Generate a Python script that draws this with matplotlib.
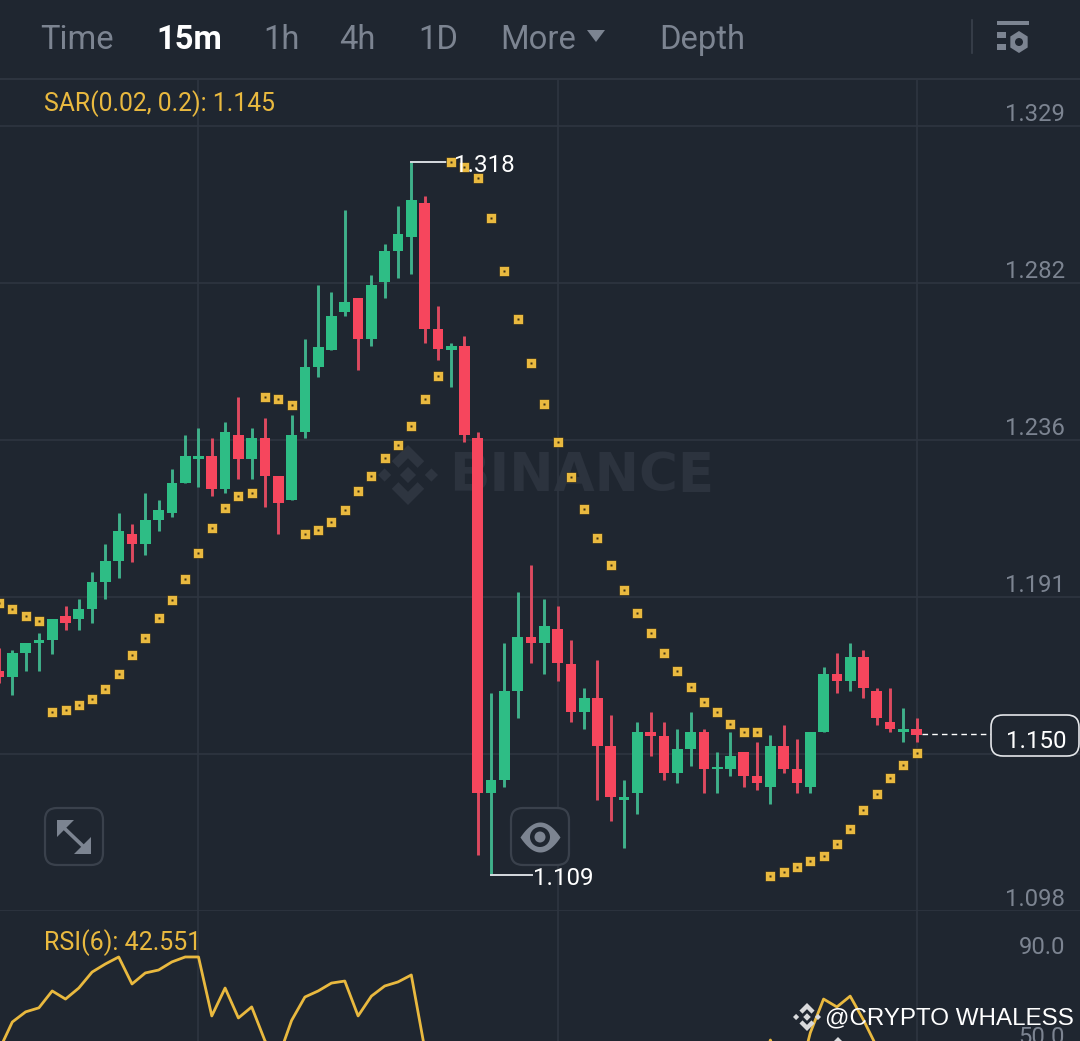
import numpy as np
import matplotlib
matplotlib.use('Agg')
import matplotlib.pyplot as plt
from matplotlib.patches import FancyBboxPatch, Polygon, Circle, Rectangle

# Candle data (15m)
Open = [1.1686, 1.1668, 1.1739, 1.1768, 1.1777, 1.1848, 1.1839, 1.1869, 1.1949, 1.2010,
        1.2089, 1.2060, 1.2131, 1.2151, 1.2240, 1.2310, 1.2319, 1.2222, 1.2381, 1.2310,
        1.2372, 1.2260, 1.2190, 1.2390, 1.2581, 1.2631, 1.2743, 1.2784, 1.2663, 1.2831,
        1.2922, 1.2963, 1.3063, 1.2693, 1.2631, 1.2643, 1.2372, 1.1328, 1.1366, 1.1627,
        1.1786, 1.1768, 1.1810, 1.1707, 1.1566, 1.1607, 1.1466, 1.1307, 1.1328, 1.1507,
        1.1495, 1.1386, 1.1457, 1.1507, 1.1398, 1.1398, 1.1448, 1.1377, 1.1345, 1.1466,
        1.1398, 1.1345, 1.1507, 1.1677, 1.1657, 1.1728, 1.1627, 1.1536, 1.1507, 1.1516]
High = [1.1754, 1.1748, 1.1768, 1.1798, 1.1839, 1.1877, 1.1898, 1.1978, 1.2060, 1.2151,
        1.2119, 1.2210, 1.2190, 1.2281, 1.2381, 1.2401, 1.2372, 1.2419, 1.2492, 1.2401,
        1.2431, 1.2260, 1.2440, 1.2663, 1.2822, 1.2802, 1.3043, 1.2784, 1.2852, 1.2943,
        1.3055, 1.3184, 1.3084, 1.2760, 1.2652, 1.2672, 1.2390, 1.1621, 1.1768, 1.1919,
        1.1998, 1.1898, 1.1877, 1.1777, 1.1636, 1.1719, 1.1557, 1.1366, 1.1536, 1.1566,
        1.1536, 1.1516, 1.1566, 1.1516, 1.1448, 1.1507, 1.1448, 1.1477, 1.1498, 1.1527,
        1.1486, 1.1507, 1.1698, 1.1739, 1.1768, 1.1748, 1.1636, 1.1636, 1.1577, 1.1548]
Low = [1.1651, 1.1615, 1.1686, 1.1686, 1.1736, 1.1807, 1.1807, 1.1827, 1.1898, 1.1960,
       1.2007, 1.2028, 1.2098, 1.2140, 1.2240, 1.2228, 1.2202, 1.2210, 1.2251, 1.2251,
       1.2169, 1.2089, 1.2190, 1.2372, 1.2552, 1.2631, 1.2731, 1.2572, 1.2643, 1.2784,
       1.2843, 1.2855, 1.2652, 1.2601, 1.2522, 1.2360, 1.1145, 1.1086, 1.1345, 1.1548,
       1.1710, 1.1677, 1.1657, 1.1536, 1.1516, 1.1307, 1.1245, 1.1165, 1.1265, 1.1436,
       1.1366, 1.1357, 1.1407, 1.1328, 1.1328, 1.1377, 1.1345, 1.1336, 1.1295, 1.1386,
       1.1328, 1.1328, 1.1507, 1.1621, 1.1627, 1.1607, 1.1527, 1.1507, 1.1477, 1.1477]
Close = [1.1668, 1.1739, 1.1768, 1.1777, 1.1839, 1.1827, 1.1869, 1.1949, 1.2010, 1.2098,
         1.2060, 1.2131, 1.2160, 1.2240, 1.2319, 1.2319, 1.2222, 1.2390, 1.2310, 1.2372,
         1.2260, 1.2181, 1.2381, 1.2581, 1.2640, 1.2731, 1.2772, 1.2663, 1.2822, 1.2922,
         1.2972, 1.3072, 1.2693, 1.2634, 1.2643, 1.2381, 1.1328, 1.1366, 1.1627, 1.1786,
         1.1768, 1.1819, 1.1710, 1.1566, 1.1607, 1.1466, 1.1315, 1.1315, 1.1507, 1.1495,
         1.1386, 1.1457, 1.1507, 1.1398, 1.1404, 1.1436, 1.1377, 1.1357, 1.1466, 1.1398,
         1.1357, 1.1507, 1.1677, 1.1657, 1.1728, 1.1636, 1.1548, 1.1516, 1.1516, 1.1498]
Sar = [1.1887, 1.1869, 1.1848, 1.1833, 1.1566, 1.1572, 1.1586, 1.1604, 1.1633, 1.1677,
       1.1733, 1.1783, 1.1842, 1.1895, 1.1957, 1.2034, 1.2107, 1.2166, 1.2202, 1.2210,
       1.2492, 1.2487, 1.2469, 1.2089, 1.2101, 1.2125, 1.2160, 1.2216, 1.2260, 1.2313,
       1.2351, 1.2407, 1.2487, 1.2554, 1.3184, 1.3169, 1.3137, 1.3019, 1.2863, 1.2722,
       1.2593, 1.2472, 1.2360, 1.2257, 1.2163, 1.2078, 1.1998, 1.1925, 1.1857, 1.1798,
       1.1739, 1.1686, 1.1639, 1.1595, 1.1566, 1.1530, 1.1507, 1.1507, 1.1083, 1.1095,
       1.1110, 1.1127, 1.1142, 1.1177, 1.1221, 1.1277, 1.1324, 1.1371, 1.1410, 1.1445]
# values under the bottom edge of the picture are guesses
Rsi = [49.4, 62.0, 66.5, 68.3, 75.8, 72.2, 77.1, 84.2, 87.8, 90.9,
       78.9, 83.8, 85.1, 88.7, 90.9, 90.9, 64.7, 77.1, 63.8, 68.7,
       53.6, 46.0, 62.7, 73.1, 75.8, 79.3, 80.2, 64.7, 73.5, 78.0,
       79.8, 82.9, 50.4, 36.0, 37.0, 22.0, 8.0, 9.0, 25.0, 33.0,
       32.0, 35.0, 30.0, 24.0, 26.0, 22.0, 18.0, 18.0, 30.0, 30.0,
       26.0, 28.0, 31.0, 27.0, 27.0, 29.0, 26.0, 35.0, 54.0, 38.0,
       34.0, 57.2, 72.2, 68.7, 73.5, 62.9, 50.9, 36.0, 40.0, 42.551]

price_grid = [1.329, 1.2828, 1.2366, 1.1904, 1.1442, 1.098]
price_labels = ['1.329', '1.282', '1.236', '1.191', '', '1.098']
rsi_ticks = [90.0, 50.0]
time_grid = [15, 42, 69]
menu_labels = ['Time', '15m', '1h', '4h', '1D', 'More', 'Depth']
menu_x = [41, 157, 264, 340, 419, 501, 660]

BG = '#1f2630'
GRID = '#2e3540'
GREEN = '#2ebd85'
RED = '#f6465d'
GREEN_WICK = '#3fb08a'
RED_WICK = '#dd4a60'
GOLD = '#e9b93f'
GREY = '#7c8491'
FONT = 'Roboto'
W, H = 1080, 1041

plt.rcParams['font.family'] = FONT

fig = plt.figure(figsize=(W / 100, H / 100), dpi=100, facecolor=BG)


def pixel_axes(top, bottom, z):
    a = fig.add_axes([0, 1 - bottom / H, 1, (bottom - top) / H], zorder=z)
    a.set_facecolor('none')
    a.axis('off')
    return a


def draw_logo(a, cx, cy, s, color, z=1):
    # binance mark, s is half of the total height
    c = 0.27 * s
    a.add_patch(Polygon([(cx, cy - c), (cx + c, cy), (cx, cy + c), (cx - c, cy)], fc=color, ec='none', zorder=z))
    for sx in (-1, 1):
        d = 0.78 * s * sx
        e = 0.22 * s
        a.add_patch(Polygon([(cx + d, cy - e), (cx + d + e, cy), (cx + d, cy + e), (cx + d - e, cy)], fc=color, ec='none', zorder=z))
    for sy in (-1, 1):
        a.add_patch(Polygon([(cx, cy + sy * s), (cx + 0.54 * s, cy + sy * 0.46 * s), (cx + 0.32 * s, cy + sy * 0.24 * s),
                             (cx, cy + sy * 0.56 * s), (cx - 0.32 * s, cy + sy * 0.24 * s), (cx - 0.54 * s, cy + sy * 0.46 * s)],
                            fc=color, ec='none', zorder=z))


# background layer, watermark sits under the candles
back = pixel_axes(0, H, 0)
back.set_xlim(0, W)
back.set_ylim(H, 0)
back.axhline(79, color=GRID, lw=1.4)
draw_logo(back, 408, 475, 30, '#2e3540')
back.text(449, 476, 'BINANCE', color='#2c333e', fontsize=38.2, fontweight='bold', family='DejaVu Sans', va='center', ha='left')

# price panel
ax = pixel_axes(80, 911, 1)
idx = np.arange(len(Open))
ax.set_xlim(0.075, 81.28)
ax.set_ylim(1.09800, 1.34254)
for p in price_grid:
    ax.axhline(p, color=GRID, lw=1.2, zorder=1)
for t in time_grid:
    ax.axvline(t, color=GRID, lw=1.2, zorder=1)

up = np.array(Close) >= np.array(Open)
colors = [GREEN if u else RED for u in up]
wick_colors = [GREEN_WICK if u else RED_WICK for u in up]
ax.vlines(idx, Low, High, colors=wick_colors, lw=2.1, zorder=2)
ax.bar(idx, np.array(Close) - np.array(Open), bottom=Open, width=0.8, color=colors, zorder=3)

ax.plot(idx, Sar, ls='none', marker='s', ms=6.6, mfc=GOLD, mec='#15181c', mew=0.4, zorder=4)
ax.plot(idx, Sar, ls='none', marker='s', ms=2.0, mfc='#3a2e14', mec='none', zorder=5)

for p, lab in zip(price_grid, price_labels):
    ax.annotate(lab, xy=(1, p), xycoords=ax.get_yaxis_transform(), xytext=(-10.8, 8.6), textcoords='offset points',
                ha='right', va='center', color=GREY, fontsize=17.2)

# high / low marks and current price
hi = int(np.argmax(High))
lo = int(np.argmin(Low))
ax.plot([hi, hi + 2.65], [High[hi], High[hi]], color='#d8dbe0', lw=1.4, zorder=3)
ax.plot([lo, lo + 3.05], [Low[lo], Low[lo]], color='#d8dbe0', lw=1.4, zorder=3)
ax.annotate('1.318', xy=(hi, High[hi]), xytext=(30.5, -2.6), textcoords='offset points', color='white', fontsize=17.4, va='center', zorder=6)
ax.annotate('1.109', xy=(lo, Low[lo]), xytext=(30, -2.6), textcoords='offset points', color='white', fontsize=17.4, va='center', zorder=6)
ax.plot([69.4, 74.6], [1.150, 1.150], color='white', lw=1, ls=(0, (4, 3)), zorder=3)

# rsi panel
ax2 = pixel_axes(911, H, 1)
ax2.set_xlim(0.075, 81.28)
ax2.set_ylim(53.56, 111.33)
for t in time_grid:
    ax2.axvline(t, color=GRID, lw=1.2, zorder=1)
ax2.plot(idx, Rsi, color=GOLD, lw=2.0, zorder=3)
for v in rsi_ticks:
    ax2.annotate('%.1f' % v, xy=(1, v), xycoords=ax2.get_yaxis_transform(), xytext=(-10.8, 8.6), textcoords='offset points',
                 ha='right', va='center', color=GREY, fontsize=17.2, annotation_clip=False)

# top layer: menu, legends, buttons
top = pixel_axes(0, H, 2)
top.set_xlim(0, W)
top.set_ylim(H, 0)
for lab, x in zip(menu_labels, menu_x):
    sel = lab == '15m'
    top.text(x - 1, 40, lab, color='white' if sel else GREY, fontsize=23.6, fontweight='bold' if sel else 'normal', va='center', ha='left')
top.add_patch(Polygon([(587, 30), (605, 30), (596, 42)], fc=GREY, ec='none'))
top.plot([972, 972], [20, 53], color='#3a414c', lw=1.2)

# settings icon
top.add_patch(Rectangle((997, 21), 32, 4, fc=GREY, ec='none'))
top.add_patch(Rectangle((997, 32), 9, 6, fc=GREY, ec='none'))
top.add_patch(Rectangle((997, 44), 9, 6, fc=GREY, ec='none'))
hex_a = np.radians(np.arange(6) * 60 + 30)
top.add_patch(Polygon(np.c_[1019 + 10 * np.cos(hex_a), 42 + 11 * np.sin(hex_a)], fc=GREY, ec='none'))
top.add_patch(Circle((1019, 42), 4, fc=BG, ec='none'))

top.text(44, 104, 'SAR(0.02, 0.2): 1.145', color=GOLD, fontsize=17.8, va='center', ha='left')
top.text(44, 943, 'RSI(6): 42.551', color=GOLD, fontsize=18, va='center', ha='left')

# current price box
top.add_patch(FancyBboxPatch((991, 715), 88, 41, boxstyle='round,pad=0,rounding_size=12', fc=BG, ec='#e4e6ea', lw=1.2, zorder=5))
top.text(1036, 741, '1.150', color='white', fontsize=17.4, ha='center', va='center', zorder=6)

# expand and eye buttons
for bx in (45, 511):
    top.add_patch(FancyBboxPatch((bx, 808), 58, 57, boxstyle='round,pad=0,rounding_size=12', fc=BG, ec='#3a414c', lw=1.6, zorder=5))
top.plot([63, 85], [827, 848], color=GREY, lw=2.6, zorder=6)
top.add_patch(Polygon([(57, 820), (74, 820), (57, 837)], fc=GREY, ec='none', zorder=6))
top.add_patch(Polygon([(91, 854), (74, 854), (91, 837)], fc=GREY, ec='none', zorder=6))
t = np.linspace(-1, 1, 60)
eye_x = 540 + 20 * t
top.fill_between(eye_x, 837 - 15 * (1 - t ** 2), 837 + 15 * (1 - t ** 2), color=GREY, lw=0, zorder=6)
top.add_patch(Circle((540, 837), 10, fc=BG, ec='none', zorder=7))
top.add_patch(Circle((540, 837), 5.5, fc=GREY, ec='none', zorder=8))

# repost credit
draw_logo(top, 807, 1017, 14, '#d9dadc', z=7)
top.text(825, 1018, '@CRYPTO WHALESS', color='white', fontsize=17.4, family='Liberation Sans', va='center', ha='left', zorder=7)
draw_logo(top, 838, 1051, 14, '#d9dadc', z=7)

fig.savefig('out.png', dpi=100, facecolor=BG)
